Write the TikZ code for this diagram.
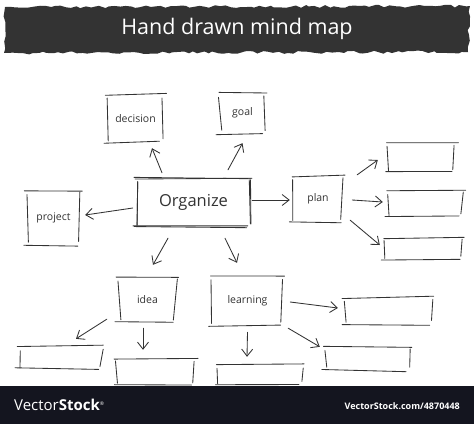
\documentclass[tikz,border=0pt]{standalone}
\usepackage{fontspec}
\setmainfont{Open Sans}
\usetikzlibrary{calc,arrows.meta,decorations.pathmorphing}
\definecolor{ink}{HTML}{333333}
\definecolor{bannerc}{HTML}{333333}
\definecolor{footerc}{HTML}{14151F}
\newcommand\skbox[1]{%
  \draw[sk] ($(#1.north west)+(-2+1.5*rand,1+1.5*rand)$) -- ($(#1.north east)+(2+1.5*rand,1.5*rand)$);
  \draw[sk] ($(#1.north east)+(1.5*rand,3+rand)$) -- ($(#1.south east)+(-1+2*rand,-3+rand)$);
  \draw[sk] ($(#1.south east)+(-3+rand,1.5*rand)$) -- ($(#1.south west)+(-3+rand,1.5*rand)$);
  \draw[sk] ($(#1.south west)+(1+1.5*rand,-2+rand)$) -- ($(#1.north west)+(1.5*rand,4+rand)$);
}
\tikzset{
  sk/.style={draw=ink, line width=0.85pt, line cap=round},
  arr/.style={sk, -{Straight Barb[length=7pt,width=11pt]}},
  bx/.style={inner sep=0pt, text=ink, font=\fontsize{10.5}{10.5}\selectfont},
}
\begin{document}
\begin{tikzpicture}[x=1pt,y=-1pt]
\pgfmathsetseed{11}
\useasboundingbox (0,0) rectangle (474,424);
\fill[white] (0,0) rectangle (474,424);
% banner
\fill[bannerc, decorate, decoration={random steps, segment length=5pt, amplitude=1.5pt}]
  (5,7) -- (470,6) -- (468,52) -- (4,53) -- cycle;
\node[text=white, font=\fontsize{21.5}{21.5}\selectfont] (title) at (237,29) {Hand drawn mind map};
% footer
\fill[footerc] (0,386) rectangle (474,424);
\node[anchor=west, text=white, font=\fontsize{15}{15}\selectfont, inner sep=0pt] (vs) at (14,405) {Vector\textbf{Stock}\raisebox{5pt}{\fontsize{5}{5}\selectfont ®}};
\node[anchor=east, text=white, font=\bfseries\fontsize{9}{9}\selectfont, inner sep=0pt] (url) at (460,406) {VectorStock.com/4870448};
% nodes
\node[bx, minimum width=55, minimum height=47] (decision) at (135.5,118.5) {decision};
\node[bx, minimum width=45, minimum height=40] (goal) at (242.5,113) {goal};
\node[bx, minimum width=113, minimum height=49, font=\fontsize{16.5}{16.5}\selectfont] (org) at (193.5,202.5) {Organize};
\node[bx, minimum width=53, minimum height=55] (project) at (53.5,217.5) {project};
\node[bx, minimum width=50, minimum height=48] (plan) at (318,199) {plan};
\node[bx, minimum width=67, minimum height=30] (r1) at (421.5,157) {};
\node[bx, minimum width=74, minimum height=27] (r2) at (425,203.5) {};
\node[bx, minimum width=78, minimum height=23] (r3) at (424,248.5) {};
\node[bx, minimum width=57, minimum height=45] (idea) at (147.5,299.5) {idea};
\node[bx, minimum width=71, minimum height=49] (learning) at (247.5,300.5) {learning};
\node[bx, minimum width=88, minimum height=27] (l1) at (389,310.5) {};
\node[bx, minimum width=84, minimum height=23] (l2) at (367,358.5) {};
\node[bx, minimum width=84, minimum height=20] (l3) at (260,375) {};
\node[bx, minimum width=78, minimum height=27] (i1) at (156,371.5) {};
\node[bx, minimum width=83, minimum height=23] (i2) at (60.5,357.5) {};
\foreach \n in {decision,goal,org,org,project,plan,r1,r2,r3,idea,learning,l1,l2,l3,i1,i2} {\skbox{\n}}
% arrows
\draw[arr] ($(org.north)+(-31.5,-5)$) -- ($(decision.south)+(16.5,6)$);
\draw[arr] ($(org.north)+(34.5,-8)$) -- ($(goal.south)+(0,10)$);
\draw[arr] ($(org.west)+(-4,5.5)$) -- ($(project.east)+(5,-2.5)$);
\draw[arr] ($(org.east)+(2,-2.5)$) -- ($(plan.west)+(-3,1)$);
\draw[arr] ($(org.south)+(-25.5,11)$) -- ($(idea.north)+(5.5,-12)$);
\draw[arr] ($(org.south)+(31.5,11)$) -- ($(learning.north)+(-10.5,-13)$);
\draw[arr] ($(plan.north east)+(14,0)$) -- ($(r1.west)+(-10,3)$);
\draw[arr] ($(plan.east)+(9,1)$) -- ($(r2.west)+(-5,-1.5)$);
\draw[arr] ($(plan.south east)+(7,-3)$) -- ($(r3.west)+(-5,-3.5)$);
\draw[arr] ($(idea.south west)+(-12,-3)$) -- ($(i2.north)+(15.5,-7)$);
\draw[arr] ($(idea.south)+(-4.5,6)$) -- ($(i1.north)+(-13,-8)$);
\draw[arr] ($(learning.east)+(7,1.5)$) -- ($(l1.west)+(-7,-2.5)$);
\draw[arr] ($(learning.south east)+(5,3)$) -- ($(l2.north west)+(-5,0)$);
\draw[arr] ($(learning.south)+(0,7)$) -- ($(l3.north)+(-13,-8)$);
\end{tikzpicture}
\end{document}
